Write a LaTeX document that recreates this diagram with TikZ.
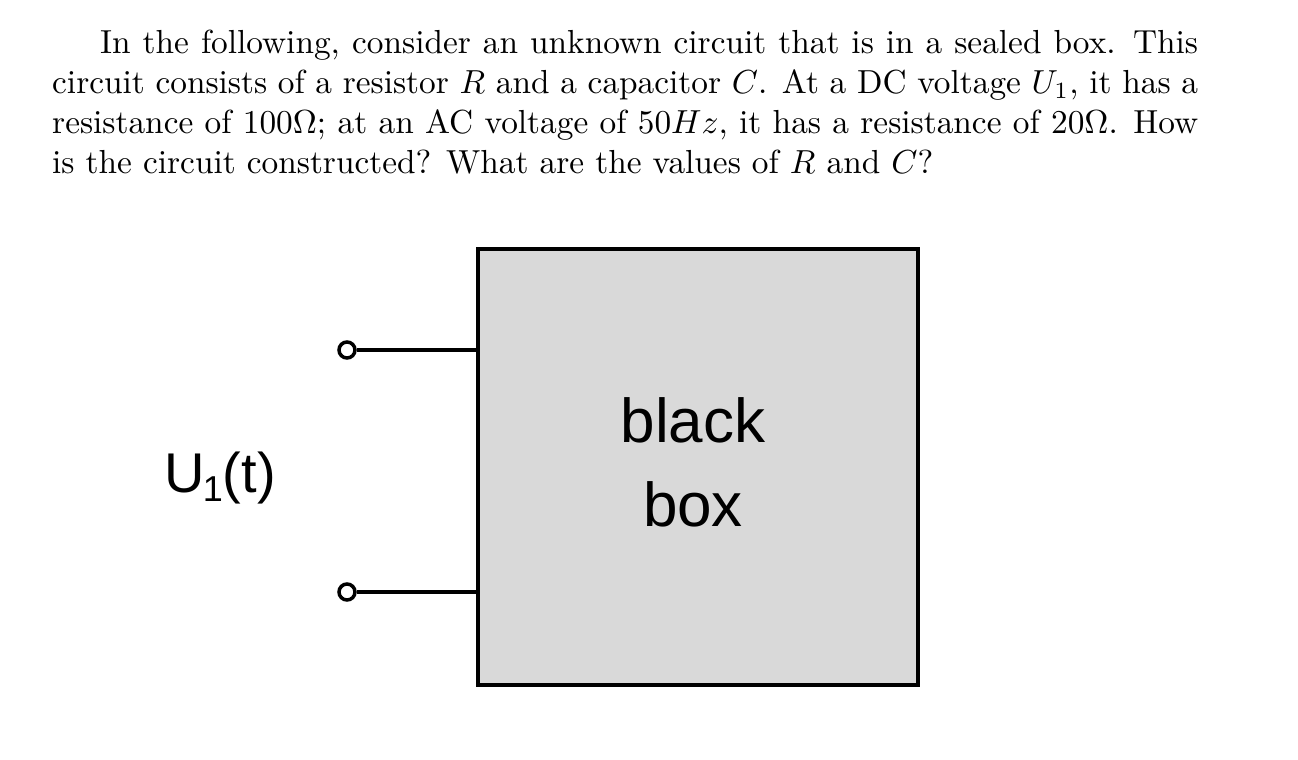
\documentclass[tikz,border=0pt]{standalone}
\usepackage{fontspec}
\newfontfamily\sfh{Liberation Sans}
\begin{document}
\begin{tikzpicture}[x=1pt,y=-1pt,
  term/.style={circle,draw,line width=3.5pt,minimum size=16pt,inner sep=0pt,fill=white},
  wire/.style={line width=4pt},
  lab/.style={font=\sfh\fontsize{62}{84}\selectfont,align=center}]
\useasboundingbox (0,0) rectangle (1298,760);
\node[anchor=north west,inner sep=0pt] (txt) at (52,30) {\scalebox{3.333}{\parbox{343.8pt}{\fontsize{10}{12}\selectfont\parindent=14.4pt
In the following, consider an unknown circuit that is in a sealed box. This circuit consists of a resistor $R$ and a capacitor $C$. At a DC voltage $U_1$, it has a resistance of 100$\Omega$; at an AC voltage of $50Hz$, it has a resistance of 20$\Omega$. How is the circuit constructed? What are the values of $R$ and $C$?}}};
\node[draw,line width=4pt,fill=black!15,minimum width=440pt,minimum height=436pt,inner sep=0pt] (box) at (698,467) {};
\node[lab] (bl) at (693,462) {black\\box};
\node[term] (t1) at (347,350) {};
\node[term] (t2) at (347,592) {};
\coordinate (e1) at (box.west |- t1);
\coordinate (e2) at (box.west |- t2);
\draw[wire] (t1) -- (e1);
\draw[wire] (t2) -- (e2);
\node[font=\sfh\fontsize{56}{60}\selectfont] (u) at (220,478) {U\kern-2pt\raisebox{-9pt}{\fontsize{36}{40}\selectfont 1}(t)};
\end{tikzpicture}
\end{document}
